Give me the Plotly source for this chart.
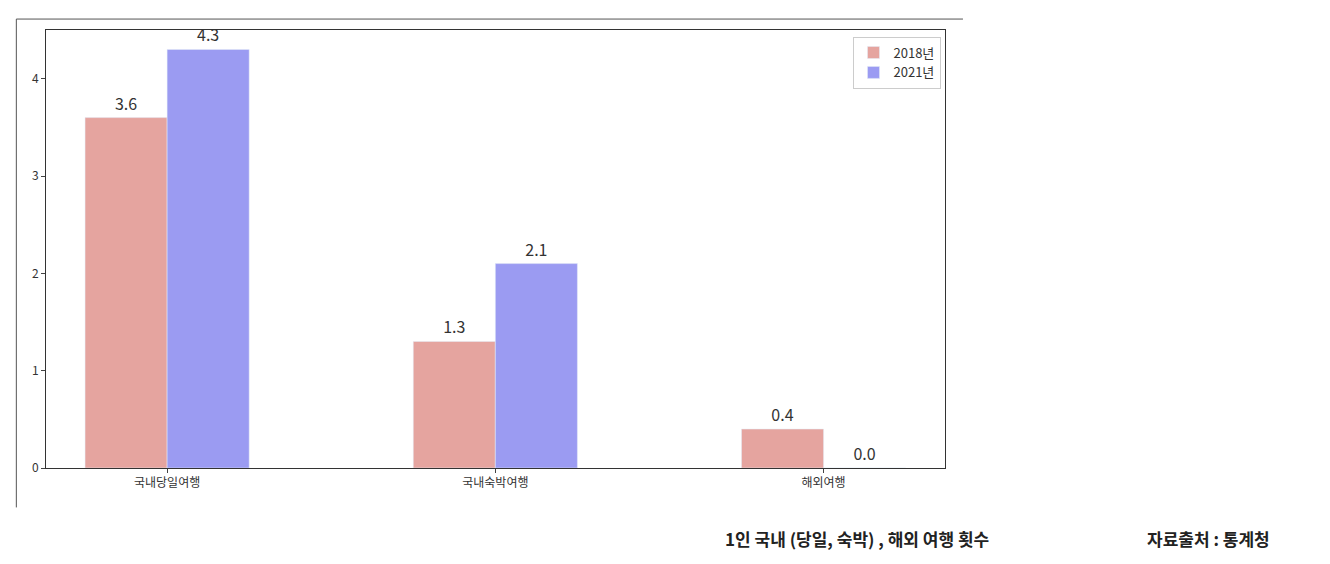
import plotly.graph_objects as go

categories = ['국내당일여행', '국내숙박여행', '해외여행']
y2018 = [3.6, 1.3, 0.4]
y2021 = [4.3, 2.1, 0.0]
yticks = [0, 1, 2, 3, 4]

fig = go.Figure()
fig.add_trace(go.Bar(x=categories, y=y2018, name='2018년', width=0.25, offset=-0.25,
                     marker_color='#e5a49f', text=[f'{v:.1f}' for v in y2018],
                     textposition='outside', cliponaxis=False,
                     textfont=dict(size=16, color='#333')))
fig.add_trace(go.Bar(x=categories, y=y2021, name='2021년', width=0.25, offset=0,
                     marker_color='#9b9bf2', text=[f'{v:.1f}' for v in y2021],
                     textposition='outside', cliponaxis=False,
                     textfont=dict(size=16, color='#333')))

fig.update_layout(
    width=1330, height=564, plot_bgcolor='white', paper_bgcolor='white',
    margin=dict(l=38, r=393, t=22, b=104),
    font=dict(family='Noto Sans CJK KR', size=12, color='#333'),
    showlegend=True,
    legend=dict(x=0.995, y=0.985, xanchor='right', yanchor='top', bordercolor='#ccc',
                borderwidth=1, font=dict(size=13), traceorder='normal'),
    xaxis=dict(range=[-0.369, 2.37], showline=True, linecolor='#333', mirror=True,
               ticks='outside', ticklen=4, tickfont=dict(size=12)),
    yaxis=dict(range=[0, 4.5], tickvals=yticks, showgrid=False, zeroline=False,
               showline=True, linecolor='#333', mirror=True, ticks='outside', ticklen=4,
               tickfont=dict(size=12)),
    uniformtext=dict(mode=False),
)
fig.add_shape(type='line', xref='paper', yref='paper', x0=-0.033, x1=1.02, y0=1.025, y1=1.025,
              line=dict(color='#555', width=1))
fig.add_shape(type='line', xref='paper', yref='paper', x0=-0.033, x1=-0.033, y0=1.025, y1=-0.09,
              line=dict(color='#555', width=1))
fig.add_annotation(text='<b>1인 국내 (당일, 숙박) , 해외 여행 횟수</b>', xref='paper', yref='paper',
                   x=0.753, y=-0.16, xanchor='left', yanchor='middle', showarrow=False,
                   font=dict(size=17, color='#222'))
fig.add_annotation(text='<b>자료출처 : 통계청</b>', xref='paper', yref='paper',
                   x=1.222, y=-0.16, xanchor='left', yanchor='middle', showarrow=False,
                   font=dict(size=17, color='#222'))

fig.write_html('out.html')
